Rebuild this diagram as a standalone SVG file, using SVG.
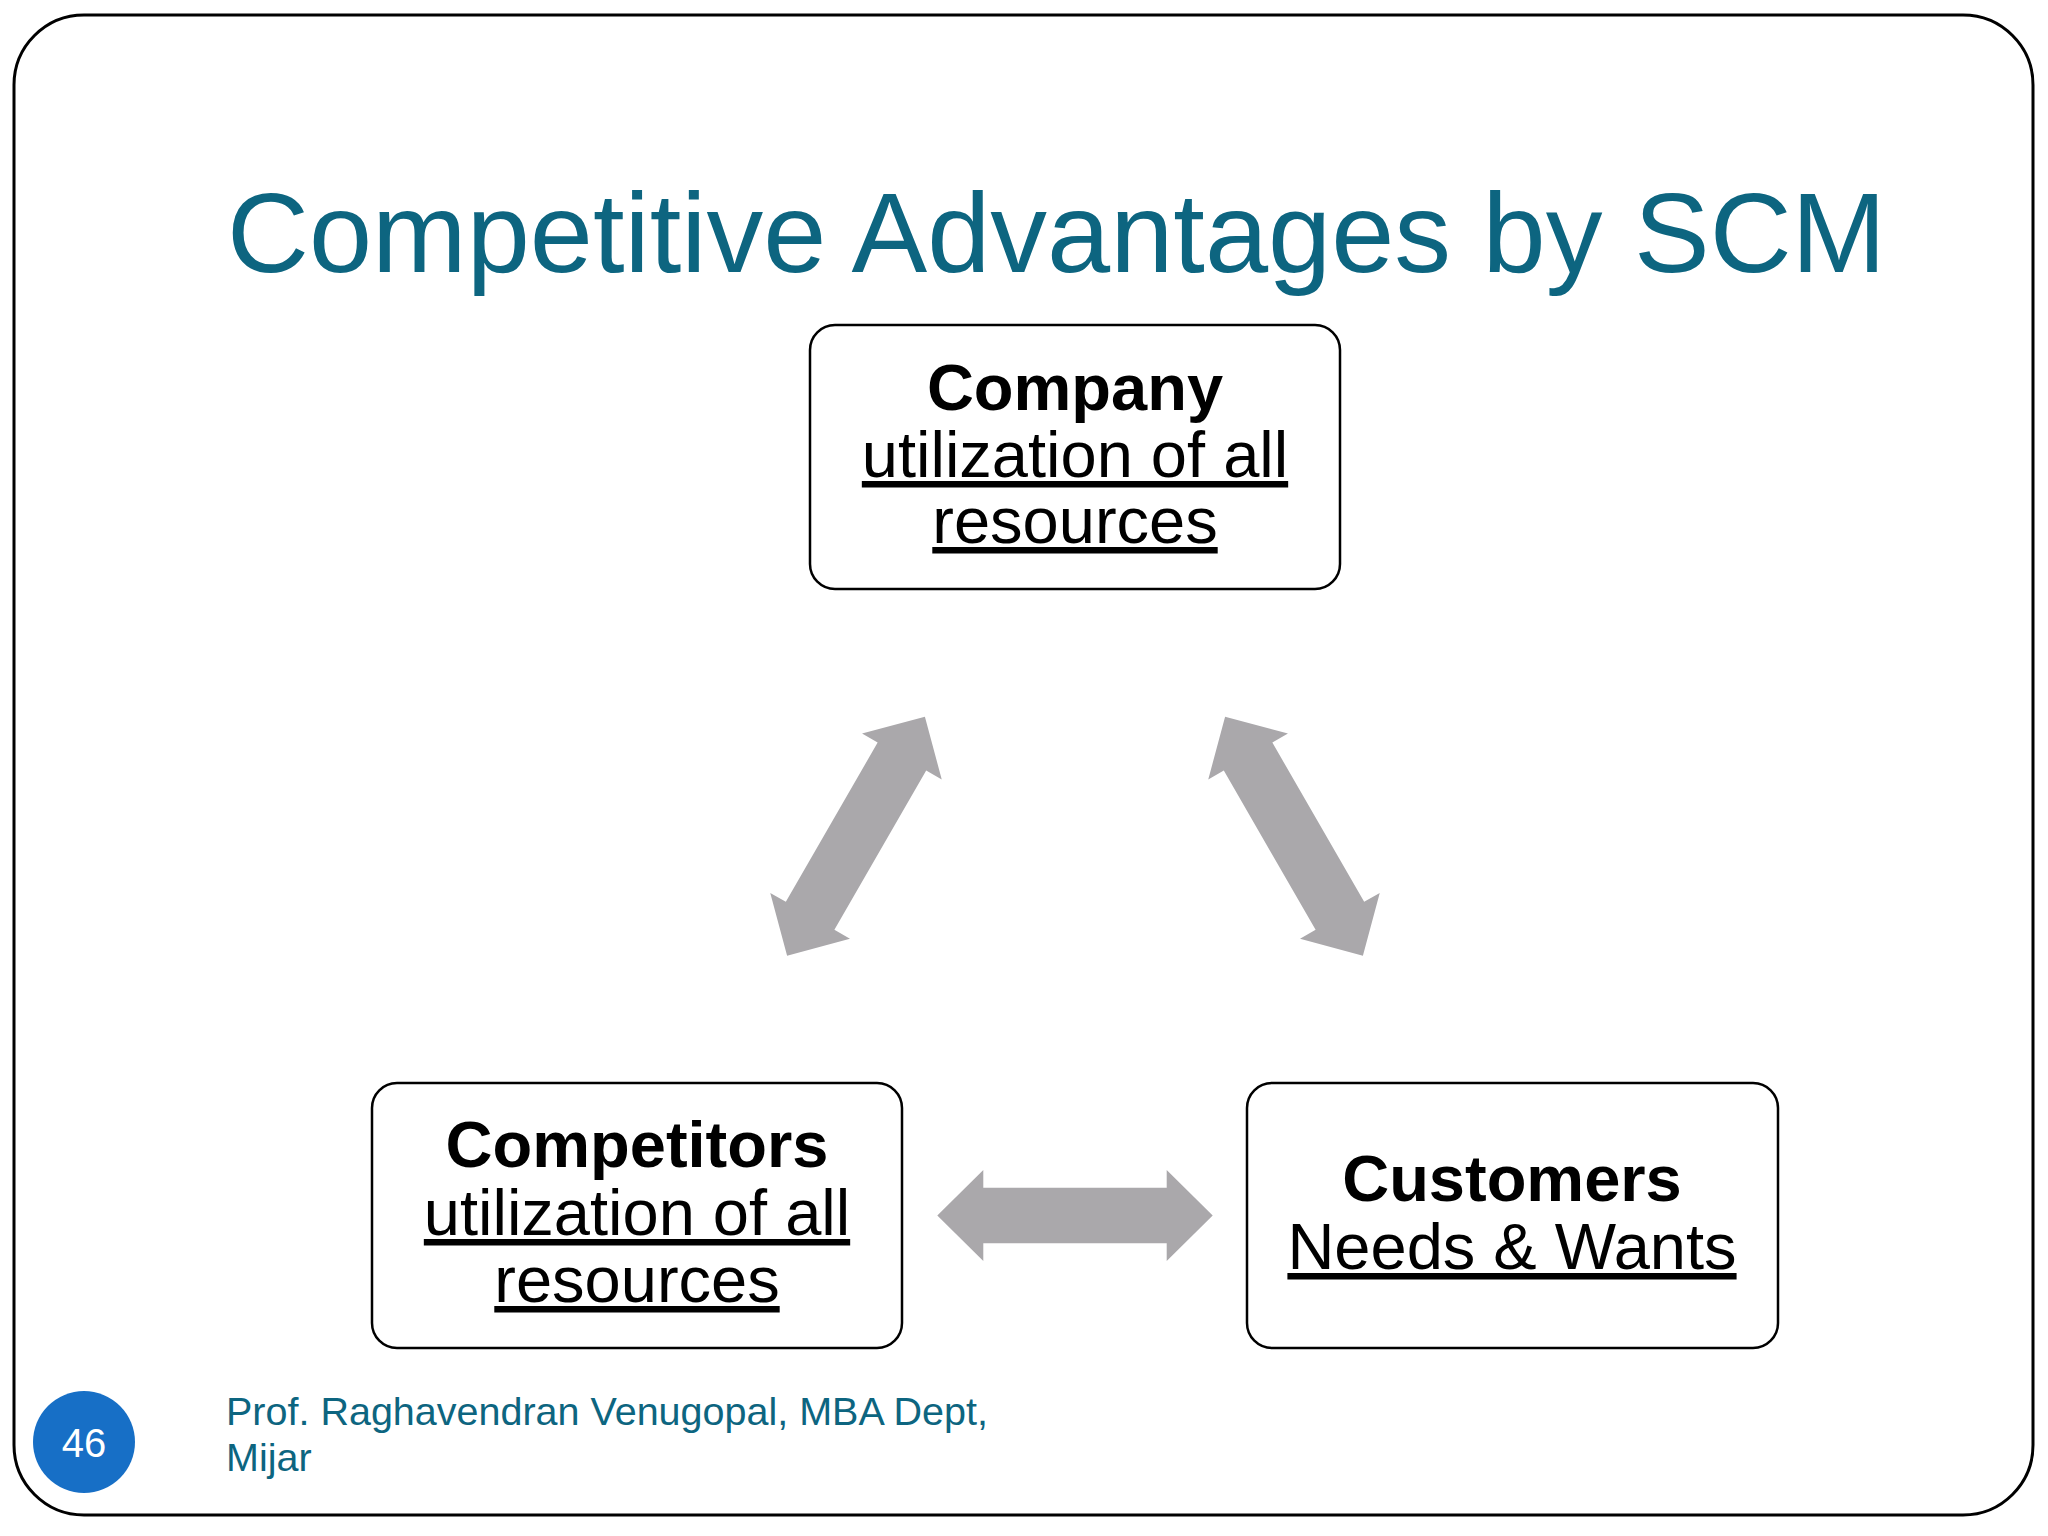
<svg xmlns="http://www.w3.org/2000/svg" width="2048" height="1536" viewBox="0 0 2048 1536">
  <style>
    .frame { fill: #ffffff; stroke: #000000; stroke-width: 3; }
    .box { fill: #ffffff; stroke: #000000; stroke-width: 2.5; }
    .head { font-family: "Liberation Sans", Arial, sans-serif; font-weight: bold; font-size: 65px; fill: #000000; text-anchor: middle; }
    .sub { font-family: "Liberation Sans", Arial, sans-serif; font-size: 65px; fill: #000000; text-anchor: middle; text-decoration: underline; }
    .title { font-family: "Liberation Sans", Arial, sans-serif; font-size: 113.5px; fill: #0d6580; }
    .foot { font-family: "Liberation Sans", Arial, sans-serif; font-size: 39.5px; fill: #0d6580; }
    .arrow { fill: #aaa8ab; stroke: none; }
  </style>
  <rect x="0" y="0" width="2048" height="1536" fill="#ffffff"/>
  <rect class="frame" x="14" y="15" width="2019" height="1500" rx="70" ry="70"/>

  <text class="title" x="227" y="272">Competitive Advantages by SCM</text>

  <g id="connectors">
    <polygon id="arrow-company-competitors" class="arrow" points="924.9,716.7 941.75,779.5 926.2,770.5 834.4,929.8 849.95,938.8 787.1,955.7 770.25,892.9 785.84,901.86 877.64,742.56 862.05,733.57"/>
    <polygon id="arrow-company-customers" class="arrow" points="1225.1,716.7 1208.25,779.5 1223.8,770.5 1315.6,929.8 1300.05,938.8 1362.9,955.7 1379.75,892.9 1364.16,901.86 1272.36,742.56 1287.95,733.57"/>
    <polygon id="arrow-competitors-customers" class="arrow" points="937.3,1215.5 983.3,1170 983.3,1187.7 1166.7,1187.7 1166.7,1170 1212.7,1215.5 1166.7,1261 1166.7,1243.3 983.3,1243.3 983.3,1261"/>
  </g>

  <g id="node-company">
    <rect class="box" x="810" y="325" width="530" height="264" rx="25" ry="25"/>
    <text class="head" x="1075" y="410">Company</text>
    <text class="sub" x="1075" y="477">utilization of all</text>
    <text class="sub" x="1075" y="543">resources</text>
  </g>

  <g id="node-competitors">
    <rect class="box" x="372" y="1083" width="530" height="265" rx="25" ry="25"/>
    <text class="head" x="637" y="1167">Competitors</text>
    <text class="sub" x="637" y="1235">utilization of all</text>
    <text class="sub" x="637" y="1302">resources</text>
  </g>

  <g id="node-customers">
    <rect class="box" x="1247" y="1083" width="531" height="265" rx="25" ry="25"/>
    <text class="head" x="1512" y="1201">Customers</text>
    <text class="sub" x="1512" y="1269">Needs &amp; Wants</text>
  </g>

  <g id="footer">
    <circle cx="84" cy="1442" r="51" fill="#176fc6"/>
    <text x="84" y="1457" font-family="Liberation Sans, Arial, sans-serif" font-size="40" fill="#ffffff" text-anchor="middle">46</text>
    <text class="foot" x="226" y="1425">Prof. Raghavendran Venugopal, MBA Dept,</text>
    <text class="foot" x="226" y="1471">Mijar</text>
  </g>
</svg>
